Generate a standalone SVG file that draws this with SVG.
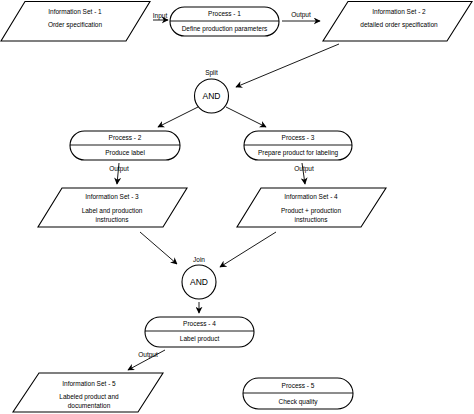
<svg xmlns="http://www.w3.org/2000/svg" width="474" height="414" viewBox="0 0 474 414">
<style>
.sh{fill:#fff;stroke:#000;stroke-width:1.1}
.dv{stroke:#000;stroke-width:0.9}
.t{font-family:"Liberation Sans",Arial,sans-serif;font-size:6.5px;fill:#000;text-anchor:middle}
.a{font-family:"Liberation Sans",Arial,sans-serif;font-size:8.5px;fill:#000;text-anchor:middle}
.c{fill:none;stroke:#000;stroke-width:0.9;marker-end:url(#ah)}
</style>
<defs>
<marker id="ah" viewBox="0 0 10 10" refX="9" refY="5" markerWidth="7" markerHeight="7" markerUnits="userSpaceOnUse" orient="auto">
<path d="M0,0 L10,5 L0,10 L3,5 Z" fill="#000"/>
</marker>
</defs>
<rect width="474" height="414" fill="#fff"/>
<g id="connectors">
<path class="c" d="M153,20 L168,20"/>
<text class="t" x="160" y="18">Input</text>
<path class="c" d="M282,21 L320,21"/>
<text class="t" x="301" y="17">Output</text>
<path class="c" d="M339,44 L236,87"/>
<path class="c" d="M198,107 L158,127"/>
<path class="c" d="M226,107 L266,127"/>
<path class="c" d="M119,163 L117,184"/>
<text class="t" x="119" y="171">Output</text>
<path class="c" d="M302,163 L305,184"/>
<text class="t" x="304" y="171">Output</text>
<path class="c" d="M140,232 L177,264"/>
<path class="c" d="M276,232 L220,267"/>
<path class="c" d="M199,302 L199,313"/>
<path class="c" d="M165,350 L128,370"/>
<text class="t" x="148" y="357">Output</text>
</g>
<g id="info1">
<polygon class="sh" points="25,1.5 150,1.5 126,41 1,41"/>
<text class="t" x="75" y="14">Information Set - 1</text>
<text class="t" x="75" y="27">Order specification</text>
</g>
<g id="process1">
<rect class="sh" x="170" y="7" width="109" height="29" rx="14.5"/>
<line class="dv" x1="170" y1="21" x2="279" y2="21"/>
<text class="t" x="224.5" y="16">Process - 1</text>
<text class="t" x="224.5" y="31">Define production parameters</text>
</g>
<g id="info2">
<polygon class="sh" points="348,1.5 472,1.5 447,41 323,41"/>
<text class="t" x="399" y="14">Information Set - 2</text>
<text class="t" x="399" y="27">detailed order specification</text>
</g>
<g id="split">
<text class="t" x="211.5" y="75">Split</text>
<circle class="sh" cx="211.5" cy="96" r="17"/>
<text class="a" x="211.5" y="99">AND</text>
</g>
<g id="process2">
<rect class="sh" x="70" y="131" width="110" height="29" rx="14.5"/>
<line class="dv" x1="70" y1="145" x2="180" y2="145"/>
<text class="t" x="125" y="140">Process - 2</text>
<text class="t" x="125" y="155">Produce label</text>
</g>
<g id="process3">
<rect class="sh" x="244" y="131" width="108" height="29" rx="14.5"/>
<line class="dv" x1="244" y1="145" x2="352" y2="145"/>
<text class="t" x="298" y="140">Process - 3</text>
<text class="t" x="298" y="155">Prepare product for labeling</text>
</g>
<g id="info3">
<polygon class="sh" points="62,188 187,188 163,227 38,227"/>
<text class="t" x="112" y="199">Information Set - 3</text>
<text class="t" x="112" y="213">Label and production</text>
<text class="t" x="112" y="222">instructions</text>
</g>
<g id="info4">
<polygon class="sh" points="261,188 386,188 361,227 237,227"/>
<text class="t" x="311" y="199">Information Set - 4</text>
<text class="t" x="311" y="213">Product + production</text>
<text class="t" x="311" y="222">instructions</text>
</g>
<g id="join">
<text class="t" x="199" y="262">Join</text>
<circle class="sh" cx="199" cy="282" r="17"/>
<text class="a" x="199" y="285">AND</text>
</g>
<g id="process4">
<rect class="sh" x="145" y="317" width="109" height="30" rx="15"/>
<line class="dv" x1="145" y1="331" x2="254" y2="331"/>
<text class="t" x="199.5" y="326">Process - 4</text>
<text class="t" x="199.5" y="341">Label product</text>
</g>
<g id="info5">
<polygon class="sh" points="39,373 163,373 138,412 13,412"/>
<text class="t" x="89" y="386">Information Set - 5</text>
<text class="t" x="89" y="399">Labeled product and</text>
<text class="t" x="89" y="408">documentation</text>
</g>
<g id="process5">
<rect class="sh" x="243" y="378" width="110" height="31" rx="15.5"/>
<line class="dv" x1="243" y1="393" x2="353" y2="393"/>
<text class="t" x="298" y="388">Process - 5</text>
<text class="t" x="298" y="404">Check quality</text>
</g>
</svg>
